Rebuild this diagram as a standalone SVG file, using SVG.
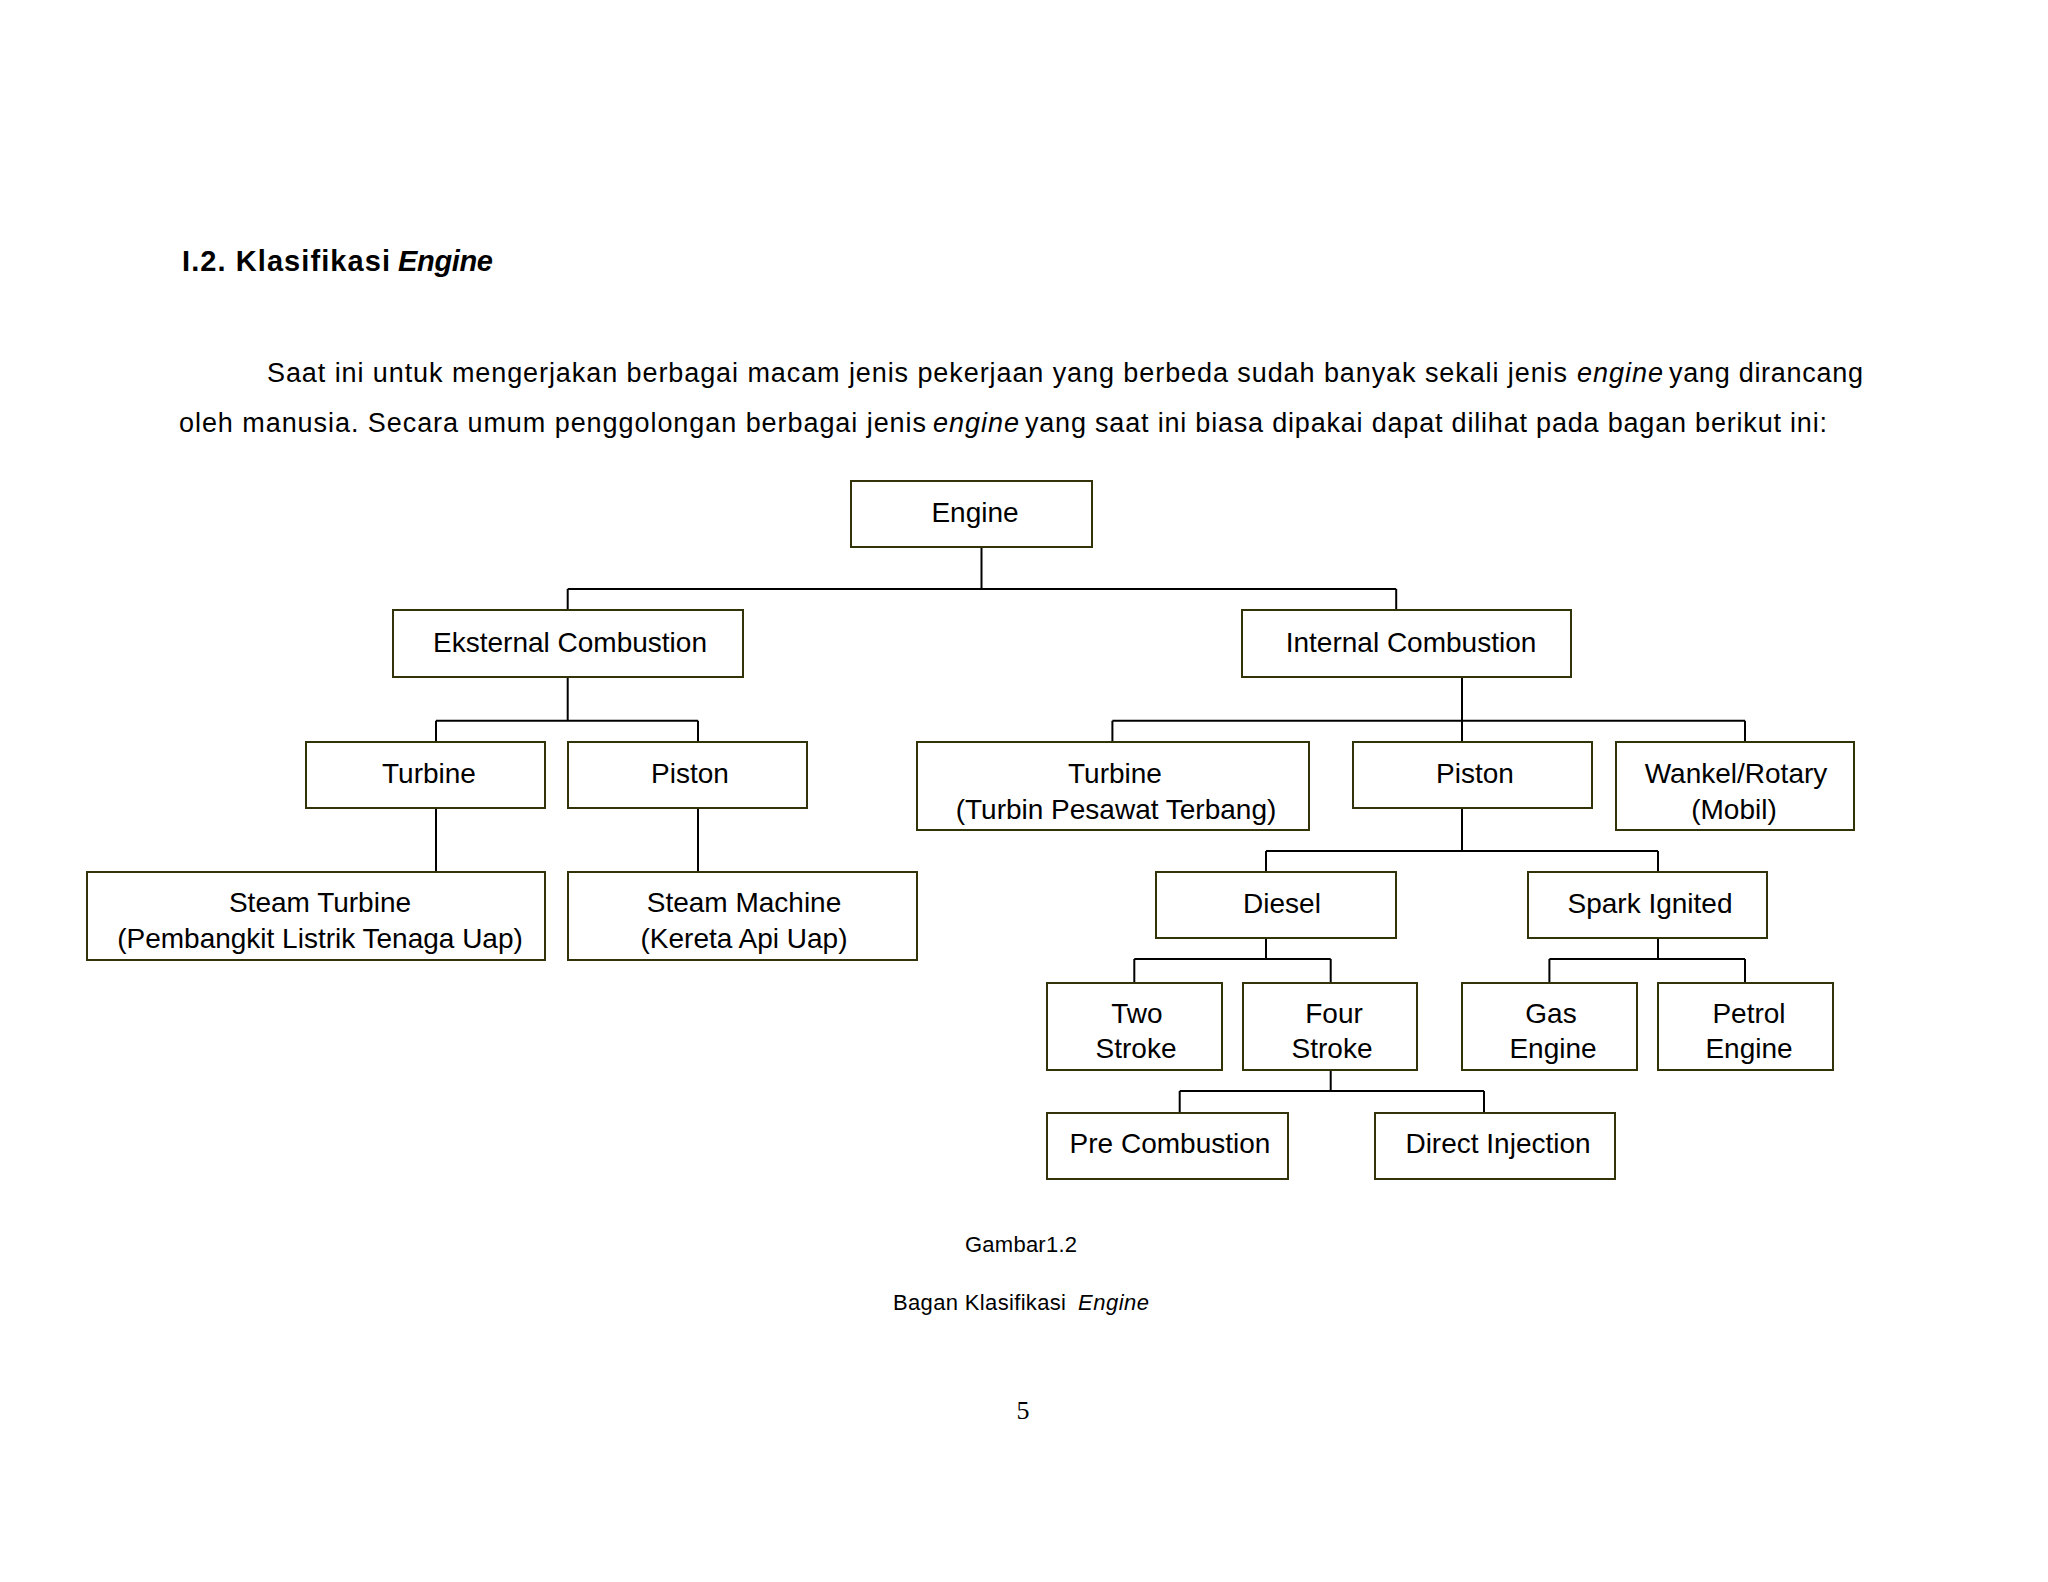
<svg xmlns="http://www.w3.org/2000/svg" width="2048" height="1582" viewBox="0 0 2048 1582">
<style>
.bg{fill:#ffffff}
.box{fill:#ffffff;stroke:#33330a;stroke-width:2}
.lbl{font-family:"Liberation Sans",Arial,sans-serif;font-size:28px;fill:#000000;text-anchor:middle}
.para{font-family:"Liberation Sans",Arial,sans-serif;font-size:27px;fill:#000000}
.head{font-family:"Liberation Sans",Arial,sans-serif;font-size:29px;font-weight:bold;fill:#000000}
.cap{font-family:"Liberation Sans",Arial,sans-serif;font-size:22px;fill:#000000}
.it{font-style:italic}
.conn{fill:none;stroke:#000000;stroke-width:2}
</style>
<rect class="bg" x="0" y="0" width="2048" height="1582"/>

<g id="heading">
<text class="head" x="182" y="271" textLength="208" lengthAdjust="spacing">I.2. Klasifikasi</text>
<text class="head it" x="398" y="271" textLength="95" lengthAdjust="spacing">Engine</text>
</g>

<g id="paragraph">
<text class="para" x="267" y="382" textLength="1300" lengthAdjust="spacing">Saat ini untuk mengerjakan berbagai macam jenis pekerjaan yang berbeda sudah banyak sekali jenis</text>
<text class="para it" x="1577" y="382" textLength="86" lengthAdjust="spacing">engine</text>
<text class="para" x="1669" y="382" textLength="194" lengthAdjust="spacing">yang dirancang</text>
<text class="para" x="179" y="432" textLength="747" lengthAdjust="spacing">oleh manusia. Secara umum penggolongan berbagai jenis</text>
<text class="para it" x="933" y="432" textLength="86" lengthAdjust="spacing">engine</text>
<text class="para" x="1025" y="432" textLength="802" lengthAdjust="spacing">yang saat ini biasa dipakai dapat dilihat pada bagan berikut ini:</text>
</g>

<g id="connectors">
<path class="conn" d="M981.5 547 V589 M567.7 589 H1396.2 M567.7 589 V610 M1396.2 589 V610"/>
<path class="conn" d="M567.7 677 V720.7 M436 720.7 H698 M436 720.7 V742 M698 720.7 V742"/>
<path class="conn" d="M436 808 V872 M698 808 V872"/>
<path class="conn" d="M1462 677 V742 M1112.4 720.7 H1745 M1112.4 720.7 V742 M1745 720.7 V742"/>
<path class="conn" d="M1462 808 V851 M1266 851 H1658 M1266 851 V872 M1658 851 V872"/>
<path class="conn" d="M1266 938 V959 M1134.3 959 H1330.7 M1134.3 959 V983 M1330.7 959 V983"/>
<path class="conn" d="M1658 938 V959 M1549.4 959 H1745 M1549.4 959 V983 M1745 959 V983"/>
<path class="conn" d="M1330.7 1070 V1091 M1179.7 1091 H1484 M1179.7 1091 V1113 M1484 1091 V1113"/>
</g>

<g id="engine">
<rect class="box" x="851" y="481" width="241" height="66"/>
<text class="lbl" x="975" y="522">Engine</text>
</g>
<g id="eksternal">
<rect class="box" x="393" y="610" width="350" height="67"/>
<text class="lbl" x="570" y="652">Eksternal Combustion</text>
</g>
<g id="internal">
<rect class="box" x="1242" y="610" width="329" height="67"/>
<text class="lbl" x="1411" y="652">Internal Combustion</text>
</g>
<g id="ext-turbine">
<rect class="box" x="306" y="742" width="239" height="66"/>
<text class="lbl" x="429" y="783">Turbine</text>
</g>
<g id="ext-piston">
<rect class="box" x="568" y="742" width="239" height="66"/>
<text class="lbl" x="690" y="783">Piston</text>
</g>
<g id="steam-turbine">
<rect class="box" x="87" y="872" width="458" height="88"/>
<text class="lbl" x="320" y="912">Steam Turbine</text>
<text class="lbl" x="320" y="948">(Pembangkit Listrik Tenaga Uap)</text>
</g>
<g id="steam-machine">
<rect class="box" x="568" y="872" width="349" height="88"/>
<text class="lbl" x="744" y="912">Steam Machine</text>
<text class="lbl" x="744" y="948">(Kereta Api Uap)</text>
</g>
<g id="ic-turbine">
<rect class="box" x="917" y="742" width="392" height="88"/>
<text class="lbl" x="1115" y="783">Turbine</text>
<text class="lbl" x="1116" y="819">(Turbin Pesawat Terbang)</text>
</g>
<g id="ic-piston">
<rect class="box" x="1353" y="742" width="239" height="66"/>
<text class="lbl" x="1475" y="783">Piston</text>
</g>
<g id="wankel">
<rect class="box" x="1616" y="742" width="238" height="88"/>
<text class="lbl" x="1736" y="783">Wankel/Rotary</text>
<text class="lbl" x="1734" y="819">(Mobil)</text>
</g>
<g id="diesel">
<rect class="box" x="1156" y="872" width="240" height="66"/>
<text class="lbl" x="1282" y="913">Diesel</text>
</g>
<g id="spark">
<rect class="box" x="1528" y="872" width="239" height="66"/>
<text class="lbl" x="1650" y="913">Spark Ignited</text>
</g>
<g id="two-stroke">
<rect class="box" x="1047" y="983" width="175" height="87"/>
<text class="lbl" x="1137" y="1023">Two</text>
<text class="lbl" x="1136" y="1058">Stroke</text>
</g>
<g id="four-stroke">
<rect class="box" x="1243" y="983" width="174" height="87"/>
<text class="lbl" x="1334" y="1023">Four</text>
<text class="lbl" x="1332" y="1058">Stroke</text>
</g>
<g id="gas-engine">
<rect class="box" x="1462" y="983" width="175" height="87"/>
<text class="lbl" x="1551" y="1023">Gas</text>
<text class="lbl" x="1553" y="1058">Engine</text>
</g>
<g id="petrol-engine">
<rect class="box" x="1658" y="983" width="175" height="87"/>
<text class="lbl" x="1749" y="1023">Petrol</text>
<text class="lbl" x="1749" y="1058">Engine</text>
</g>
<g id="pre-combustion">
<rect class="box" x="1047" y="1113" width="241" height="66"/>
<text class="lbl" x="1170" y="1153">Pre Combustion</text>
</g>
<g id="direct-injection">
<rect class="box" x="1375" y="1113" width="240" height="66"/>
<text class="lbl" x="1498" y="1153">Direct Injection</text>
</g>

<g id="caption">
<text class="cap" x="965" y="1252" textLength="112" lengthAdjust="spacing">Gambar1.2</text>
<text class="cap" x="893" y="1310" textLength="173" lengthAdjust="spacing">Bagan Klasifikasi</text>
<text class="cap it" x="1078" y="1310" textLength="71" lengthAdjust="spacing">Engine</text>
<text x="1023" y="1419" font-family="'Liberation Serif','Times New Roman',serif" font-size="26" text-anchor="middle" fill="#000000">5</text>
</g>
</svg>
